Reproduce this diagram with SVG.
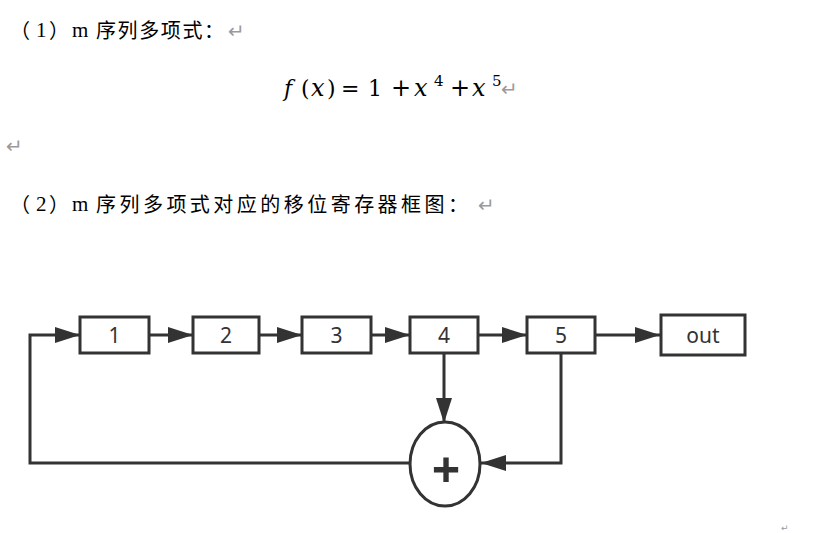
<svg xmlns="http://www.w3.org/2000/svg" width="822" height="533" viewBox="0 0 822 533">
<style>
.cn{font-family:"Noto Sans CJK SC","Noto Sans",sans-serif;font-size:20px;fill:#000}
.lat{font-family:"Liberation Serif",serif;font-size:21px;fill:#000}
.ret{font-family:"DejaVu Sans",sans-serif;font-size:20px;fill:#9a9a9a}
.m{font-family:"DejaVu Serif",serif;font-size:22px;fill:#000}
.mi{font-style:italic}
.sup{font-family:"DejaVu Serif",serif;font-size:15px;fill:#000}
.box{fill:#fff;stroke:#333;stroke-width:3}
.lbl{font-family:"Noto Sans","Open Sans",sans-serif;font-size:21px;fill:#333;text-anchor:middle}
.con{fill:none;stroke:#333;stroke-width:3}
</style>
<defs>
<marker id="ah" markerUnits="userSpaceOnUse" markerWidth="26" markerHeight="18" refX="25" refY="9" orient="auto">
<path d="M0,1 L25,9 L0,17 z" fill="#333"/>
</marker>
</defs>
<rect width="822" height="533" fill="#fff"/>
<g id="text1">
<text class="cn" x="10" y="38">（</text>
<text class="lat" x="36" y="37">1</text>
<text class="cn" x="49" y="38">）</text>
<text class="lat" x="72" y="37">m</text>
<text class="cn" x="96" y="38" textLength="128" lengthAdjust="spacing">序列多项式：</text>
<text class="ret" x="228" y="38">↵</text>
</g>
<g id="formula">
<text class="m mi" x="284" y="96">f</text>
<text class="m" x="301" y="96">(</text>
<text class="m mi" x="311" y="96" style="font-size:24px">x</text>
<text class="m" x="327" y="96">)</text>
<text class="m" x="341" y="96">=</text>
<text class="m" x="368" y="96">1</text>
<text class="m" x="391" y="96" style="font-size:24px">+</text>
<text class="m mi" x="414" y="96" style="font-size:24px">x</text>
<text class="sup" x="434" y="86">4</text>
<text class="m" x="450" y="96" style="font-size:24px">+</text>
<text class="m mi" x="472" y="96" style="font-size:24px">x</text>
<text class="sup" x="492" y="86">5</text>
<text class="ret" x="501" y="96">↵</text>
</g>
<g id="text2">
<text class="ret" x="6" y="153">↵</text>
</g>
<g id="text3">
<text class="cn" x="10" y="212">（</text>
<text class="lat" x="36" y="211">2</text>
<text class="cn" x="49" y="212">）</text>
<text class="lat" x="72" y="211">m</text>
<text class="cn" x="96" y="212" textLength="372" lengthAdjust="spacing">序列多项式对应的移位寄存器框图：</text>
<text class="ret" x="478" y="212">↵</text>
</g>
<g id="connectors">
<path class="con" d="M149,335 H193" marker-end="url(#ah)"/>
<path class="con" d="M259,335 H302" marker-end="url(#ah)"/>
<path class="con" d="M371,335 H410" marker-end="url(#ah)"/>
<path class="con" d="M478,335 H527" marker-end="url(#ah)"/>
<path class="con" d="M595,335 H660" marker-end="url(#ah)"/>
<path class="con" d="M444,353 V423" marker-end="url(#ah)"/>
<path class="con" d="M561,353 V463 H481" marker-end="url(#ah)"/>
<path class="con" d="M410,463 H30 V335 H80" marker-end="url(#ah)"/>
</g>
<g id="n1"><rect class="box" x="80" y="317" width="69" height="36"/><text class="lbl" x="114.5" y="343">1</text></g>
<g id="n2"><rect class="box" x="193" y="317" width="66" height="36"/><text class="lbl" x="226" y="343">2</text></g>
<g id="n3"><rect class="box" x="302" y="317" width="69" height="36"/><text class="lbl" x="336.5" y="343">3</text></g>
<g id="n4"><rect class="box" x="410" y="317" width="68" height="36"/><text class="lbl" x="444" y="343">4</text></g>
<g id="n5"><rect class="box" x="527" y="317" width="68" height="36"/><text class="lbl" x="561" y="343">5</text></g>
<g id="out"><rect class="box" x="661" y="315" width="84" height="40"/><text class="lbl" x="703" y="343">out</text></g>
<g id="xor"><ellipse class="box" cx="445" cy="464" rx="35" ry="42"/><text x="446" y="488" style="font-family:'Noto Sans',sans-serif;font-size:50px;font-weight:bold;fill:#333;text-anchor:middle">+</text></g>
<g id="mark"><text class="ret" x="781" y="531" style="font-size:9px">↵</text></g>
</svg>
